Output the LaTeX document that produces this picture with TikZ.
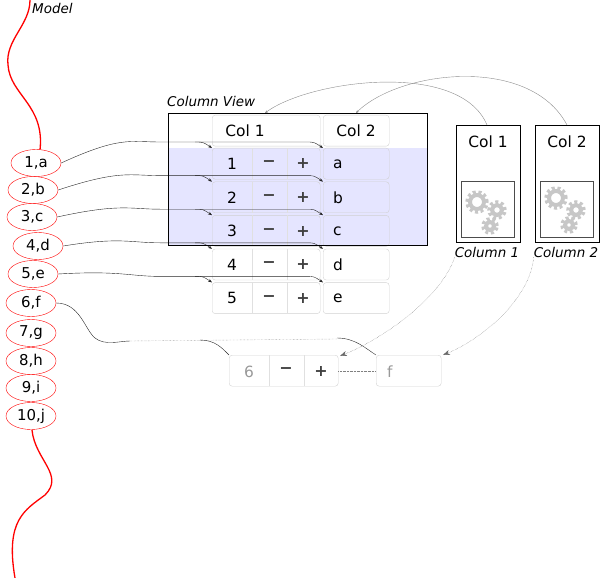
\documentclass[tikz,border=0pt]{standalone}
\usepackage{fontspec}
\setmainfont{DejaVu Sans}
\usetikzlibrary{shapes.geometric,arrows.meta,calc}
\tikzset{
  item/.style={draw=red, fill=white, ellipse, minimum width=50bp, minimum height=27bp, inner sep=0pt, font=\fontsize{15}{17}\selectfont},
  cell/.style={draw=black!18, rounded corners=3bp, anchor=north west, minimum height=31bp, inner sep=0pt},
  txt/.style={font=\fontsize{15.5}{17}\selectfont, inner sep=0pt},
  sgn/.style={font=\fontsize{16}{18}\selectfont\bfseries, inner sep=0pt, black!75},
  lbl/.style={font=\fontsize{13.5}{15}\selectfont\itshape, inner sep=0pt},
  link/.style={black!85, thin, -{Stealth[length=4bp,width=3bp]}},
  hlink/.style={black!45, thin, -{Stealth[length=3bp,width=2.5bp]}},
  dlink/.style={black!60, densely dotted, -{Stealth[length=7bp,width=5bp]}},
  gearc/.style={black!22}
}
\newcommand{\gearat}[3]{%
  \draw[gearc, line width=3.5bp, dash pattern=on 3bp off 2.6bp] (#1,#2) circle (#3bp);
  \draw[gearc, line width=4bp] (#1,#2) circle (#3bp-3bp);}
\begin{document}
\begin{tikzpicture}[x=1bp, y=-1bp]
\useasboundingbox (0,0) rectangle (600,578);

% model
\draw[red, line width=1.3bp] (30,0) .. controls (30,25) and (5,40) .. (8,65)
  .. controls (10,95) and (45,105) .. (40,150);
\draw[red, line width=1.3bp] (32,430) .. controls (35,460) and (65,475) .. (45,495)
  .. controls (25,510) and (5,520) .. (15,578);
\node[lbl, anchor=west] (model) at (32,8) {Model};
\foreach \t/\x/\y [count=\i] in {{1,a}/36/163, {2,b}/33/190, {3,c}/32/217, {4,d}/38/246, {5,e}/33/274,
    {6,f}/31/303, {7,g}/31/333, {8,h}/31/361, {9,i}/31/388, {10,j}/31/416}
  \node[item] (m\i) at (\x,\y) {\t};

% column view
\fill[blue!10] (168,148) rectangle (427,245);
\node[cell, minimum width=108bp] (h1) at (212,115) {};
\node[txt] at (245,131) {Col 1};
\node[cell, minimum width=66bp] (h2) at (323,115) {};
\node[txt] at (356,131) {Col 2};
\foreach \t/\c [count=\i] in {1/a,2/b,3/c,4/d,5/e}{
  \pgfmathsetmacro{\yy}{148+(\i-1)*33.6}
  \node[cell, minimum width=108bp] (r\i) at (212,\yy) {};
  \draw[black!12] (252,\yy) -- ++(0,31) (287,\yy) -- ++(0,31);
  \node[txt] at (232,\yy+16) {\t};
  \node[sgn] at (269,\yy+16) {−};
  \node[sgn] at (303,\yy+16) {+};
  \node[cell, minimum width=66bp] (c\i) at (323,\yy) {};
  \node[txt, anchor=west] at (333,\yy+16) {\c};
  \draw[link] (m\i.east) .. controls (120,\yy-12) and (130,\yy-6) .. (160,\yy-6)
    -- (195,\yy-6) .. controls (203,\yy-6) .. (r\i.north west);
  \draw[link] (195,\yy-6) -- (306,\yy-6) .. controls (314,\yy-6) .. (c\i.north west);
}
\draw[thick] (168,113) rectangle (427,245);
\node[lbl, anchor=south west] (cv) at (167,107) {Column View};

% column widgets
\foreach \n/\x in {1/456,2/535}{
  \draw (\x,125) rectangle ++(64,117);
  \draw[black!70] (\x+5,181) rectangle ++(53,56);
  \node[txt] (w\n) at (\x+32,142) {Col \n};
  \node[lbl] (wl\n) at (\x+31,252) {Column \n};
}
\gearat{477}{202}{10}\gearat{497}{210}{8}\gearat{490}{226}{7}
\gearat{556}{198}{10}\gearat{576}{210}{8}\gearat{569}{225}{7}
\draw[hlink] (487,125) .. controls (460,60) and (310,80) .. (265,113);
\draw[hlink] (567,125) .. controls (530,55) and (400,70) .. (356,113);

% new row
\node[cell, minimum width=109bp] (r6) at (229,355) {};
\draw[black!12] (269,355) -- ++(0,31) (304,355) -- ++(0,31);
\node[txt, black!40] at (249,372) {6};
\node[sgn] at (286,371) {−};
\node[sgn] at (321,371) {+};
\node[cell, minimum width=65bp] (c6) at (376,355) {};
\node[txt, black!40, anchor=west] at (387,372) {f};
\draw[black!50, densely dotted] (r6.east) -- (c6.west);
\draw[black!85] (m6.east) .. controls (80,303) and (85,330) .. (95,338)
  .. controls (105,346) and (120,341) .. (130,341);
\draw[black!50, densely dotted] (130,341) -- (337,339);
\draw[black!85] (200,340) .. controls (215,340) and (222,348) .. (r6.north west);
\draw[black!85] (337,338) .. controls (355,338) and (365,348) .. (c6.north west);
\draw[dlink] (wl1.south west) .. controls (440,300) and (380,340) .. (340,356);
\draw[dlink] (wl2.south west) .. controls (530,300) and (480,340) .. (443,355);
\end{tikzpicture}
\end{document}
